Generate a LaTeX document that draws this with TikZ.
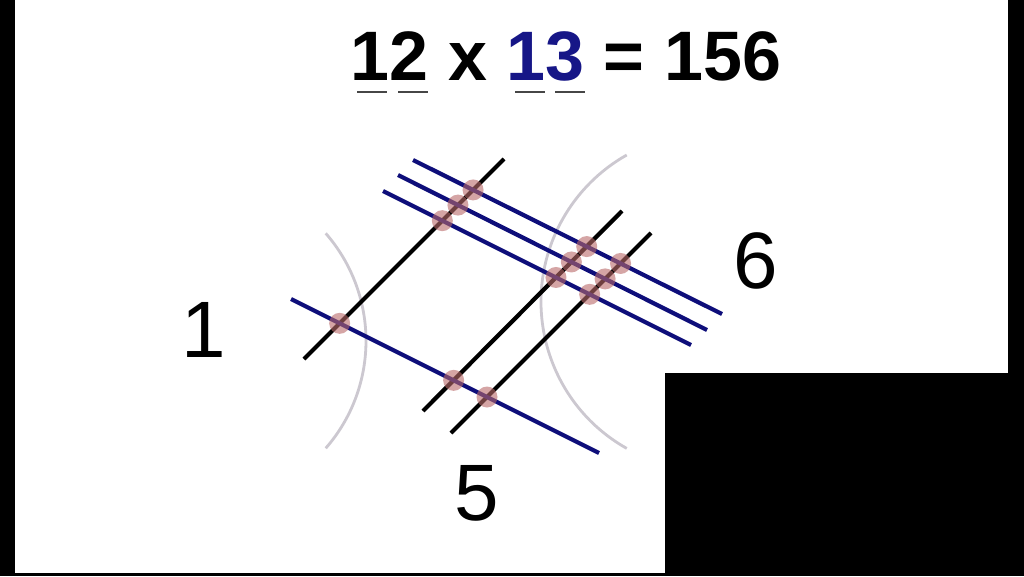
\documentclass[tikz,border=0pt]{standalone}
\usepackage{fontspec}
\setmainfont{Liberation Sans}
\begin{document}
\begin{tikzpicture}[x=1pt,y=-1pt,
  blackline/.style={line width=4.2pt,black},
  blueline/.style={line width=4.2pt,navyblue},
  guide/.style={line width=2.8pt,arcgray},
  dot/.style={circle,fill=dotred,fill opacity=0.6,inner sep=0pt,minimum size=21pt},
  ul/.style={line width=1.8pt,ulgray},
  numlabel/.style={font=\fontsize{80}{80}\selectfont,anchor=base,inner sep=0pt}]
\definecolor{navyblue}{RGB}{14,14,122}
\definecolor{arcgray}{RGB}{204,200,208}
\definecolor{dotred}{RGB}{185,105,105}
\definecolor{ulgray}{RGB}{70,70,70}
\definecolor{titleblue}{RGB}{22,22,135}
\useasboundingbox (0,0) rectangle (1024,576);
\fill[black] (0,0) rectangle (1024,576);
\fill[white] (15,0) rectangle (1008,573);
\fill[black] (665,373) rectangle (1024,576);
% title
\node[anchor=base,inner sep=0pt,font=\fontsize{70}{70}\selectfont\bfseries] (title) at (566,80)
  {12 x \textcolor{titleblue}{13} = 156};
\draw[ul] (357,92) -- (387,92);
\draw[ul] (398,92) -- (428,92);
\draw[ul] (515,92) -- (545,92);
\draw[ul] (555,92) -- (585,92);
% guide arcs
\draw[guide] (202.5,340.8) ++(-41.1:163.5) arc[start angle=-41.1,end angle=41.1,radius=163.5];
\draw[guide] (709.4,301.7) ++(119.4:168.4) arc[start angle=119.4,end angle=240.6,radius=168.4];
% line end points
\coordinate (l1a) at (304,359); \coordinate (l1b) at (504,159);
\coordinate (l2a) at (423,411); \coordinate (l2b) at (622,211);
\coordinate (l3a) at (451,433); \coordinate (l3b) at (651,233);
\coordinate (ba) at (291,299); \coordinate (bb) at (599,453);
\coordinate (t1a) at (413,160); \coordinate (t1b) at (722,314);
\coordinate (t2a) at (398,175); \coordinate (t2b) at (707,330);
\coordinate (t3a) at (383,191); \coordinate (t3b) at (691,345);
\draw[blackline] (l1a) -- (l1b);
\draw[blackline] (l2a) -- (l2b);
\draw[blackline] (l3a) -- (l3b);
\draw[blueline] (ba) -- (bb);
\draw[blueline] (t1a) -- (t1b);
\draw[blueline] (t2a) -- (t2b);
\draw[blueline] (t3a) -- (t3b);
% intersection dots
\node[dot] (d1b) at (intersection of l1a--l1b and ba--bb) {};
\node[dot] (d2b) at (intersection of l2a--l2b and ba--bb) {};
\node[dot] (d3b) at (intersection of l3a--l3b and ba--bb) {};
\node[dot] (d11) at (intersection of l1a--l1b and t1a--t1b) {};
\node[dot] (d12) at (intersection of l1a--l1b and t2a--t2b) {};
\node[dot] (d13) at (intersection of l1a--l1b and t3a--t3b) {};
\node[dot] (d21) at (intersection of l2a--l2b and t1a--t1b) {};
\node[dot] (d22) at (intersection of l2a--l2b and t2a--t2b) {};
\node[dot] (d23) at (intersection of l2a--l2b and t3a--t3b) {};
\node[dot] (d31) at (intersection of l3a--l3b and t1a--t1b) {};
\node[dot] (d32) at (intersection of l3a--l3b and t2a--t2b) {};
\node[dot] (d33) at (intersection of l3a--l3b and t3a--t3b) {};
% digit labels
\node[numlabel] (one) at (204,357) {1};
\node[numlabel] (five) at (477,520) {5};
\node[numlabel] (six) at (756,288) {6};
\end{tikzpicture}
\end{document}
